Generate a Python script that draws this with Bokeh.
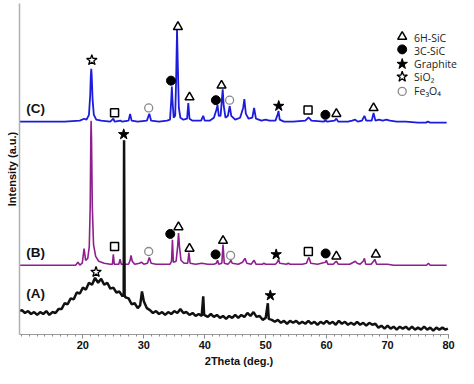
from bokeh.plotting import figure
from bokeh.models import Label, FixedTicker, Range1d, Title
from bokeh.embed import file_html
from bokeh.resources import INLINE

# ---------------- data (2Theta in deg, intensity in a.u.) ----------------
blue_x = [9.6, 13, 17, 19.5, 20.2, 20.6, 21.0, 21.2, 21.3, 21.38, 21.45, 21.6, 21.8, 22.2, 23, 24.5, 25.0, 25.2,
          26.2, 26.4, 27.5, 27.75, 28.0, 29, 30.5, 30.9, 31.2, 32.5, 33.8, 34.3, 34.5, 34.6, 34.7, 34.9, 35.15,
          35.3, 35.45, 35.6, 35.75, 36.0, 36.5, 37.1, 37.3, 37.5, 38, 39.4, 39.75, 40.0, 40.8, 41.5, 41.9, 42.1,
          42.3, 42.6, 42.8, 42.95, 43.1, 43.4, 43.8, 44.1, 44.35, 45, 45.8, 46.3, 46.5, 46.75, 47.2, 47.8, 48.1,
          48.4, 49.3, 50, 50.6, 51.6, 52.0, 52.1, 52.3, 53, 54.5, 56.5, 57.0, 57.1, 57.5, 59.5, 59.8, 60.1, 61.3,
          61.6, 61.9, 63.5, 64.2, 64.7, 65.1, 65.8, 66.2, 66.5, 67.4, 67.7, 68.0, 68.6, 69.2, 69.8, 70.4, 71.5,
          73, 75, 76.3, 76.6, 77, 79.7]
blue_y = [218, 218, 218, 219, 221, 220, 225, 245, 265, 272, 265, 240, 225, 220, 219, 218, 221, 218,
          219, 218, 219, 226, 219, 218, 219, 226, 219, 218, 219, 220, 240, 254, 240, 222, 224,
          260, 312, 270, 232, 222, 220, 221, 237, 221, 219, 219, 224, 219, 219, 222, 230, 235,
          224, 224, 240, 251, 235, 222, 224, 234, 224, 220, 222, 232, 241, 226, 221, 222, 232,
          221, 219, 220, 219, 219, 226, 229, 220, 218, 218, 219, 222, 222, 219, 218, 219, 218, 219,
          221, 218, 218, 219, 220, 218, 219, 224, 219, 219, 227, 219, 220, 219, 220, 219, 218,
          218, 217, 217, 218, 217, 217]

purple_x = [9.7, 15, 18.8, 19.2, 19.5, 19.9, 20.2, 20.45, 20.8, 21.05, 21.2, 21.3, 21.35, 21.42, 21.55, 21.75,
            22.1, 22.6, 23.5, 24.5, 24.85, 25.0, 25.15, 25.9, 26.1, 26.3, 27.5, 27.75, 27.9, 28.1, 28.5, 29.3,
            29.6, 30.0, 30.6, 30.9, 31.2, 32, 33, 34.3, 34.55, 34.7, 34.85, 35.3, 35.55, 35.7, 35.85, 36.1,
            36.6, 37.2, 37.4, 37.6, 38.5, 39.5, 40.5, 41.5, 41.9, 42.1, 42.3, 42.8, 43.0, 43.2, 43.8, 44.1,
            44.3, 44.5, 45.5, 46.2, 46.6, 46.9, 47.6, 48.1, 48.4, 49.5, 49.7, 50, 51.6, 51.9, 52.1, 52.3,
            53.4, 53.7, 54, 56, 56.7, 57.0, 57.1, 57.4, 58.5, 59.8, 59.95, 60.2, 61.1, 61.4, 61.6, 61.9,
            62.5, 63.8, 64.4, 64.7, 65.0, 65.5, 66.0, 66.2, 66.4, 67.3, 67.7, 67.9, 68.2, 69.5, 70, 71, 73,
            76.4, 76.7, 77, 79.7]
purple_y = [71, 71, 71, 74, 71, 73, 88, 76, 78, 90, 130, 200, 219, 200, 130, 92,
            80, 75, 73, 72, 72, 82, 72, 72, 77, 72, 72, 76, 81, 75, 72, 73,
            74, 72, 73, 79, 73, 72, 72, 72, 75, 97, 74, 75, 90, 104, 90, 76,
            73, 73, 84, 73, 72, 73, 72, 72, 73, 76, 72, 73, 92, 73, 72, 74,
            76, 73, 72, 74, 78, 73, 72, 76, 72, 72, 73, 72, 72, 74, 77, 73,
            72, 73, 72, 72, 73, 78, 79, 73, 72, 74, 76, 72, 72, 74, 75, 72,
            72, 72, 74, 75, 73, 72, 75, 78, 72, 72, 75, 77, 72, 72, 72, 71, 71,
            71, 73, 71, 71]

black_x = [9.7, 10.0, 10.5, 11.0, 11.5, 12.0, 12.5, 13.0, 13.5, 14.0, 14.5, 15.0, 15.5, 16.0, 16.5, 17.0, 17.5,
           18.0, 18.5, 19.0, 19.5, 20.0, 20.5, 21.0, 21.5, 22.0, 22.5, 23.0, 23.5, 24.0, 24.5, 25.0, 25.5,
           26.0, 26.5, 26.7, 26.76, 26.85, 27.0, 27.5, 28.0, 28.5, 29.0, 29.4, 29.7, 30.0, 30.5, 31.0, 31.5,
           32.0, 32.5, 33.0, 33.5, 34.0, 34.5, 35.0, 35.5, 36.0, 36.5, 37.0, 37.5, 38.0, 38.5, 39.0, 39.5,
           39.75, 39.9, 40.5, 41.0, 41.5, 42.0, 42.5, 43.0, 43.5, 44.0, 44.5, 45.0, 45.5, 46.0, 46.5, 47.0,
           47.5, 48.0, 48.5, 49.0, 49.5, 50.0, 50.35, 50.5, 51.0, 51.5, 52.0, 52.5, 53.0, 53.5, 54.0, 54.5,
           55.0, 55.5, 56.0, 56.5, 57.0, 57.5, 58.0, 58.5, 59.0, 59.5, 60.0, 60.5, 61.0, 61.5, 62.0, 62.5,
           63.0, 63.5, 64.0, 64.5, 65.0, 65.5, 66.0, 66.5, 67.0, 67.5, 68.0, 68.5, 69.0, 69.5, 70.0, 70.5,
           71.0, 71.5, 72.0, 72.5, 73.0, 73.5, 74.0, 74.5, 75.0, 75.5, 76.0, 76.5, 77.0, 77.5, 78.0, 78.5,
           79.0, 79.5, 79.9]
black_y = [24, 25, 22, 24, 21, 23, 20, 23, 21, 24, 20, 23, 22, 26, 26, 32, 31,
           37, 36, 43, 42, 48, 46, 53, 51, 58, 53, 57, 51, 53, 47, 48, 43,
           44, 39, 42, 199, 40, 38, 37, 31, 32, 27, 30, 44, 34, 27, 25, 22,
           24, 21, 23, 20, 23, 21, 24, 22, 26, 22, 23, 20, 22, 19, 21, 19,
           39, 20, 18, 21, 18, 20, 17, 19, 16, 19, 17, 20, 17, 20, 18, 22,
           19, 23, 18, 19, 15, 17, 32, 16, 15, 13, 15, 12, 14, 11, 14, 12,
           14, 11, 13, 11, 14, 11, 13, 10, 13, 11, 14, 11, 13, 10, 14, 11,
           13, 10, 12, 10, 13, 10, 12, 9, 12, 10, 11, 7, 9, 6, 9, 6,
           8, 5, 8, 6, 8, 5, 8, 5, 7, 5, 8, 5, 7, 4, 7, 5,
           7, 5, 6]

# peak markers
tri_x = [35.6, 37.5, 42.75, 61.6, 67.7, 35.69, 37.5, 43.0, 61.6, 68.08]
tri_y = [315, 243, 255, 226, 232, 110, 88, 96, 80, 82]
dot_x = [34.46, 41.83, 59.8, 34.34, 41.78, 59.84]
dot_y = [260, 240, 225, 103, 82, 83]
ring_x = [30.8, 44.08, 30.8, 44.24]
ring_y = [232, 240, 85, 81]
sq_x = [25.2, 56.95, 25.2, 57.0]
sq_y = [227, 230, 90, 85]
gstar_x = [52.14, 51.72, 26.7, 50.76]
gstar_y = [234, 82, 205, 40]
ostar_x = [21.47, 22.16]
ostar_y = [281, 64]

x_ticks = [20, 30, 40, 50, 60, 70, 80]
legend_names = ["6H-SiC", "3C-SiC", "Graphite", "SiO\u2082", "Fe\u2083O\u2084"]
sample_names = ["(C)", "(B)", "(A)"]

# ---------------- figure ----------------
p = figure(width=458, height=368, output_backend="svg", toolbar_location=None,
           x_range=Range1d(9.6, 81.64), y_range=Range1d(0, 339),
           min_border_left=19, min_border_right=0, min_border_top=3, min_border_bottom=34)
p.outline_line_color = None
p.grid.visible = False
p.background_fill_color = "white"
p.border_fill_color = "white"

minor = [10 + 1.25 * k for k in range(57)]
p.xaxis.ticker = FixedTicker(ticks=x_ticks, minor_ticks=minor)
p.xaxis.bounds = (9.6, 80)
p.xaxis.axis_line_color = "#9a9a9a"
p.xaxis.axis_line_width = 1.2
p.xaxis.major_tick_line_color = "#8a8a8a"
p.xaxis.minor_tick_line_color = "#8a8a8a"
p.xaxis.major_tick_in = 0
p.xaxis.major_tick_out = 4
p.xaxis.minor_tick_in = 0
p.xaxis.minor_tick_out = 2
p.xaxis.major_label_text_font = "Liberation Sans"
p.xaxis.major_label_text_font_style = "bold"
p.xaxis.major_label_text_font_size = "11px"
p.xaxis.major_label_text_color = "#111111"
p.xaxis.major_label_standoff = 2

p.yaxis.ticker = FixedTicker(ticks=[])
p.yaxis.axis_line_color = "#b0b0b0"
p.yaxis.axis_line_width = 1.5
p.yaxis.major_tick_out = 0
p.yaxis.minor_tick_out = 0
p.yaxis.major_label_text_font_size = "0px"

# axis titles
p.add_layout(Title(text="2Theta (deg.)", align="center", offset=-13, standoff=2,
                   text_font="Liberation Sans", text_font_style="bold", text_font_size="11px",
                   text_color="#111111"), "below")
p.add_layout(Title(text="Intensity (a.u.)", align="center", offset=-14, standoff=3,
                   text_font="Liberation Sans", text_font_style="bold", text_font_size="11px",
                   text_color="#111111"), "left")

# curves
p.line(purple_x, purple_y, line_color="#8e1f8e", line_width=1.6)
p.line(blue_x, blue_y, line_color="#1c1cdc", line_width=1.8)
p.line(black_x, black_y, line_color="#111111", line_width=2.5)

# markers
p.scatter(tri_x, tri_y, marker="triangle", size=9, fill_color="white", line_color="black", line_width=1.5)
p.scatter(dot_x, dot_y, marker="circle", size=9, fill_color="black", line_color="black")
p.scatter(ring_x, ring_y, marker="circle", size=8, fill_color="white", line_color="#888888", line_width=1.3)
p.scatter(sq_x, sq_y, marker="square", size=8, fill_color="white", line_color="black", line_width=1.5)
p.scatter(gstar_x, gstar_y, marker="star", size=11, fill_color="black", line_color="black")
p.scatter(ostar_x, ostar_y, marker="star", size=11, fill_color="white", line_color="black", line_width=1.3)

# legend (manual)
lx = 72.4
ly = [305, 292, 277, 264, 249]
p.scatter([lx], [ly[0]], marker="triangle", size=9, fill_color="white", line_color="black", line_width=1.5)
p.scatter([lx], [ly[1]], marker="circle", size=9, fill_color="black", line_color="black")
p.scatter([lx], [ly[2]], marker="star", size=11, fill_color="black", line_color="black")
p.scatter([lx], [ly[3]], marker="star", size=11, fill_color="white", line_color="black", line_width=1.3)
p.scatter([lx], [ly[4]], marker="circle", size=8, fill_color="white", line_color="#888888", line_width=1.3)
tly = [304, 290.5, 277, 264, 249.5]
for name, yy in zip(legend_names, tly):
    p.add_layout(Label(x=74.35, y=yy, text=name, text_font="Open Sans", text_font_size="10.5px",
                       text_color="#222222", text_baseline="middle", text_align="left"))

# sample labels
for name, yy in zip(sample_names, [231, 84, 42]):
    p.add_layout(Label(x=10.72, y=yy, text=name, text_font="Liberation Sans", text_font_style="bold",
                       text_font_size="13.5px", text_color="#111111", text_baseline="middle", text_align="left"))

open("out.html", "w").write(file_html(p, INLINE))
